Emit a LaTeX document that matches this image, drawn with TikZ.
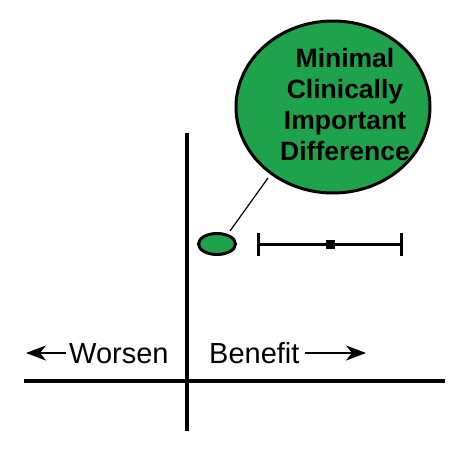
\documentclass[tikz,border=0pt]{standalone}
\usepackage{fontspec}
\setmainfont{Liberation Sans}
\usetikzlibrary{shapes.geometric,arrows.meta}
\definecolor{bubblegreen}{RGB}{30,162,75}
\begin{document}
\begin{tikzpicture}[x=1pt,y=-1pt,
  axis/.style={line width=3.2pt},
  bar/.style={line width=3pt},
  greenoval/.style={ellipse,draw=black,fill=bubblegreen,line width=3pt,inner sep=0pt},
  lbl/.style={font=\fontsize{29}{30}\selectfont,inner sep=0pt,anchor=base west},
  dirarrow/.style={line width=2.2pt,-{Stealth[length=20pt,width=15pt,inset=6pt]}}]
\useasboundingbox (0,0) rectangle (474,474);
% axes
\coordinate (hl) at (24,381);
\coordinate (hr) at (445,381);
\coordinate (vt) at (187,133);
\coordinate (vb) at (187,431);
\draw[axis] (hl) -- (hr);
\draw[axis] (vt) -- (vb);
% labels
\node[lbl] (worsen) at (69,363) {Worsen};
\node[lbl] (benefit) at (209,363) {Benefit};
\coordinate (la0) at (66,353);
\coordinate (la1) at (26,353);
\coordinate (ra0) at (305,353);
\coordinate (ra1) at (366,353);
\draw[dirarrow] (la0) -- (la1);
\draw[dirarrow] (ra0) -- (ra1);
% big bubble
\node[greenoval,minimum width=194pt,minimum height=172pt] (bubble) at (333,107) {};
\node[font=\fontsize{26.5}{31}\selectfont\bfseries,align=center,inner sep=0pt] (mcid) at (345,105)
  {Minimal\\Clinically\\Important\\Difference};
% small oval
\node[greenoval,minimum width=37pt,minimum height=21pt] (dot) at (217,244) {};
\coordinate (p0) at (230,231);
\coordinate (p1) at (268,178);
\draw[line width=1.2pt] (p0) -- (p1);
% error bar
\coordinate (eL) at (258,244);
\coordinate (eR) at (401,244);
\draw[bar] (eL) -- (eR);
\draw[bar] ([yshift=-12pt]eL) -- ([yshift=11pt]eL);
\draw[bar] ([yshift=-12pt]eR) -- ([yshift=11pt]eR);
\node[fill=black,minimum size=9pt,inner sep=0pt] (est) at (330,244) {};
\end{tikzpicture}
\end{document}
